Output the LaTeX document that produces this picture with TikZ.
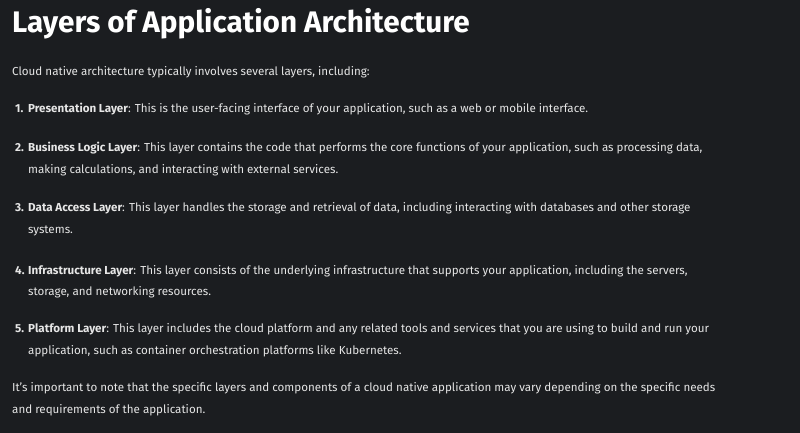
\documentclass[tikz,border=0pt]{standalone}
\usepackage{fontspec}
\setmainfont{Fira Sans}
\definecolor{bg}{HTML}{1B1D20}
\definecolor{fg}{HTML}{E6E6E6}
\begin{document}
\begin{tikzpicture}[x=1pt,y=-1pt,
  txt/.style={anchor=base west,inner sep=0pt,text=fg,font=\fontsize{11.6}{13}\selectfont},
  num/.style={txt,font=\fontsize{11.6}{13}\selectfont\bfseries},
  ttl/.style={anchor=base west,inner sep=0pt,text=white,font=\fontsize{29.7}{32}\selectfont\bfseries}]
\fill[bg] (0,0) rectangle (800,433);
\useasboundingbox (0,0) rectangle (800,433);
\node[ttl] (title) at (12,33) {Layers of Application Architecture};
\node[txt] (intro) at (12,76) {Cloud native architecture typically involves several layers, including:};
\node[num] (n1) at (15,113) {1.};
\node[txt] (l1) at (28,113) {\textbf{Presentation Layer}: This is the user-facing interface of your application, such as a web or mobile interface.};
\node[num] (n2) at (15,151) {2.};
\node[txt] (l2a) at (28,151) {\textbf{Business Logic Layer}: This layer contains the code that performs the core functions of your application, such as processing data,};
\node[txt] (l2b) at (28,173) {making calculations, and interacting with external services.};
\node[num] (n3) at (15,211) {3.};
\node[txt] (l3a) at (28,211) {\textbf{Data Access Layer}: This layer handles the storage and retrieval of data, including interacting with databases and other storage};
\node[txt] (l3b) at (28,233) {systems.};
\node[num] (n4) at (15,274) {4.};
\node[txt] (l4a) at (28,274) {\textbf{Infrastructure Layer}: This layer consists of the underlying infrastructure that supports your application, including the servers,};
\node[txt] (l4b) at (28,295) {storage, and networking resources.};
\node[num] (n5) at (15,332) {5.};
\node[txt] (l5a) at (28,332) {\textbf{Platform Layer}: This layer includes the cloud platform and any related tools and services that you are using to build and run your};
\node[txt] (l5b) at (28,354) {application, such as container orchestration platforms like Kubernetes.};
\node[txt] (e1) at (12,391) {It’s important to note that the specific layers and components of a cloud native application may vary depending on the specific needs};
\node[txt] (e2) at (12,413) {and requirements of the application.};
\end{tikzpicture}
\end{document}
